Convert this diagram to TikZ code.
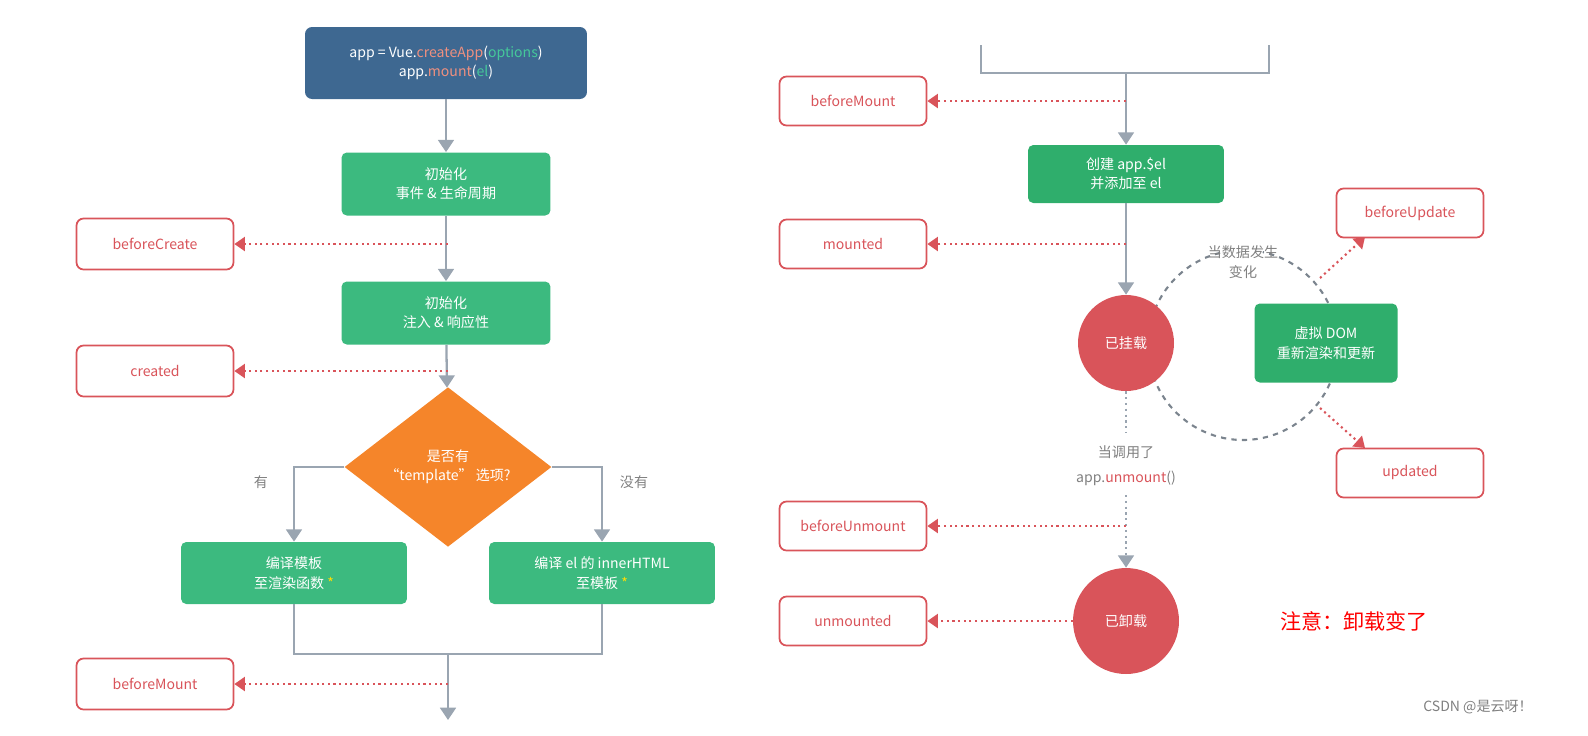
\documentclass[tikz,border=0pt]{standalone}
\usepackage{fontspec}
\setmainfont{Noto Sans CJK SC}
\usetikzlibrary{arrows.meta,shapes.geometric,calc}
\definecolor{gblue}{HTML}{3E6891}
\definecolor{ggreen}{HTML}{3CBA7F}
\definecolor{dgreen}{HTML}{2FAE6C}
\definecolor{rred}{HTML}{D9545A}
\definecolor{lgray}{HTML}{9AA5B1}
\definecolor{orng}{HTML}{F5852A}
\definecolor{salm}{HTML}{F0907F}
\definecolor{cgreen}{HTML}{45C89A}
\begin{document}
\begin{tikzpicture}[x=0.02cm,y=-0.02cm,font=\fontsize{8}{11}\selectfont,
 green/.style={rectangle,rounded corners=3pt,fill=ggreen,text=white,align=center,minimum width=4.18cm,minimum height=1.26cm},
 hook/.style={rectangle,rounded corners=4pt,draw=rred,line width=1pt,fill=white,text=rred,minimum width=3.14cm,minimum height=1.02cm},
 hookr/.style={hook,minimum width=2.94cm,minimum height=0.98cm},
 flow/.style={draw=lgray,line width=1.3pt,-{Triangle[length=7pt,width=9pt]}},
 plain/.style={draw=lgray,line width=1.3pt},
 hk/.style={draw=rred,line width=1.2pt,dotted,-{Triangle[length=6pt,width=8pt]}},
 lbl/.style={text=gray}]
\useasboundingbox (0,0) rectangle (1588,735);
% ---------- left ----------
\node[rectangle,rounded corners=4pt,fill=gblue,text=white,align=center,minimum width=5.64cm,minimum height=1.44cm] (app) at (446,63)
 {app = Vue.\textcolor{salm}{createApp}(\textcolor{cgreen}{options})\\app.\textcolor{salm}{mount}(\textcolor{cgreen}{el})};
\node[green] (i1) at (446,184) {初始化\\事件 \& 生命周期};
\node[green] (i2) at (446,313) {初始化\\注入 \& 响应性};
\node[diamond,fill=orng,text=white,align=center,minimum width=4.14cm,minimum height=2.24cm,inner sep=0pt] (d) at (448,467) {是否有\\“template” 选项?};
\node[green,minimum width=4.52cm,minimum height=1.24cm] (lb) at (294,573) {编译模板\\至渲染函数 \textcolor{yellow!80!orange}{*}};
\node[green,minimum width=4.52cm,minimum height=1.24cm] (rb) at (602,573) {编译 el 的 innerHTML\\至模板 \textcolor{yellow!80!orange}{*}};
\node[lbl] at (261,482) {有};
\node[lbl] at (634,482) {没有};
\node[hook] (bc) at (155,244) {beforeCreate};
\node[hook] (cr) at (155,371) {created};
\node[hook] (bm) at (155,684) {beforeMount};
\coordinate (p1) at (448,244);
\coordinate (p2) at (448,371);
\coordinate (p3) at (448,684);
\coordinate (j) at (448,654);
\coordinate (e) at (448,720);
\draw[flow] (app) -- (i1);
\draw[flow] (i1) -- (i2);
\draw[flow] (i2) -- (d);
\draw[flow] (d.west) -| (lb.north);
\draw[flow] (d.east) -| (rb.north);
\draw[plain] (lb.south) |- (j) -| (rb.south);
\draw[flow] (j) -- (e);
\draw[hk] (p1) -- (bc);
\draw[hk] (p2) -- (cr);
\draw[hk] (p3) -- (bm);
% ---------- right ----------
\coordinate (c) at (1243,345);
\draw[lgray!80!black,line width=1.2pt,dashed] ($(c)+(20:1.9cm)$) arc (20:78:1.9cm);
\draw[lgray!80!black,line width=1.2pt,dashed] ($(c)+(104:1.9cm)$) arc (104:340:1.9cm);
\draw[plain] (981,45) |- (1269,73) -- (1269,45);
\coordinate (t) at (1126,73);
\node[rectangle,rounded corners=3pt,fill=dgreen,text=white,align=center,minimum width=3.92cm,minimum height=1.16cm] (ce) at (1126,174) {创建 app.\$el\\并添加至 el};
\node[circle,fill=rred,text=white,minimum size=1.92cm] (m) at (1126,343) {已挂载};
\node[rectangle,rounded corners=3pt,fill=dgreen,text=white,align=center,minimum width=2.86cm,minimum height=1.58cm] (dom) at (1326,343) {虚拟 DOM\\重新渲染和更新};
\node[circle,fill=rred,text=white,minimum size=2.12cm] (um) at (1126,621) {已卸载};
\node[lbl,align=center] at (1243,262) {当数据发生\\变化};
\node[lbl] (q1) at (1126,452) {当调用了};
\node[lbl] (q2) at (1126,478) {app.\textcolor{rred}{unmount}()};
\node[hookr] (bm2) at (853,101) {beforeMount};
\node[hookr] (mt) at (853,244) {mounted};
\node[hookr] (bu) at (1410,213) {beforeUpdate};
\node[hookr] (ud) at (1410,473) {updated};
\node[hookr] (bum) at (853,526) {beforeUnmount};
\node[hookr] (umd) at (853,621) {unmounted};
\coordinate (r1) at (1126,101);
\coordinate (r2) at (1126,244);
\coordinate (r3) at (1126,526);
\coordinate (a1) at (1126,432);
\coordinate (a2) at (1126,495);
\coordinate (u1) at (1320,278);
\coordinate (u2) at (1365,237);
\coordinate (v1) at (1320,408);
\coordinate (v2) at (1365,448);
\draw[flow] (t) -- (ce);
\draw[flow] (ce) -- (m);
\draw[lgray,line width=1.3pt,dotted] (m) -- (a1);
\draw[lgray,line width=1.3pt,dotted,-{Triangle[length=7pt,width=9pt]}] (a2) -- (um);
\draw[hk] (r1) -- (bm2);
\draw[hk] (r2) -- (mt);
\draw[hk] (r3) -- (bum);
\draw[hk] (um) -- (umd);
\draw[hk] (u1) -- (u2);
\draw[hk] (v1) -- (v2);
\node[text=red,font=\fontsize{12}{14}\selectfont] at (1354,621) {注意：卸载变了};
\node[text=gray,font=\fontsize{8}{10}\selectfont] at (1478,707) {CSDN @是云呀！};
\end{tikzpicture}
\end{document}
